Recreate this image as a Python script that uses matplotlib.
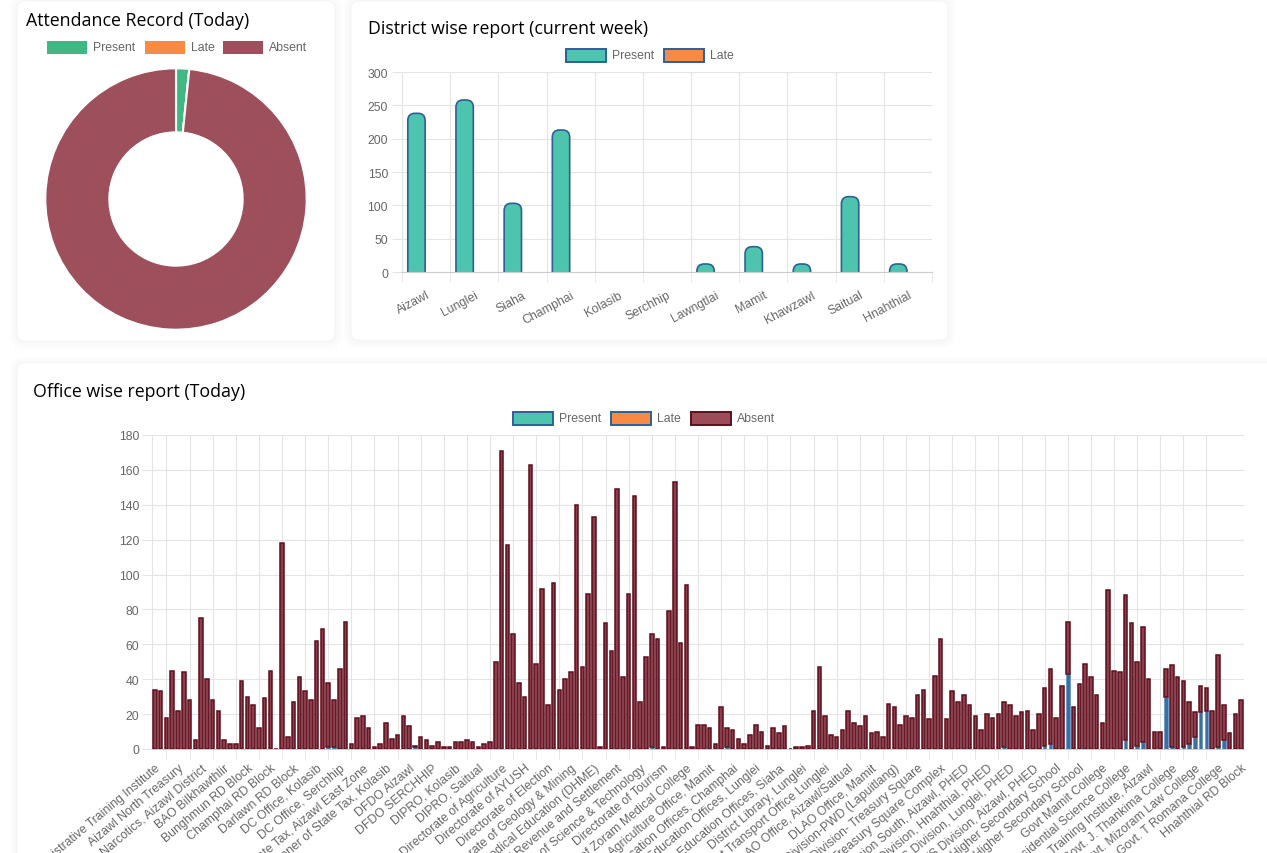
import numpy as np
import matplotlib.pyplot as plt
from matplotlib.patches import FancyBboxPatch, Rectangle

W, H = 1267, 854

# ---- data ----
att_labels = ['Present', 'Late', 'Absent']
att_values = [92, 0, 5560]
att_colors = ['#41b883', '#f78b45', '#9d4f5b']

district_names = ['Aizawl', 'Lunglei', 'Siaha', 'Champhai', 'Kolasib', 'Serchhip',
                  'Lawngtlai', 'Mamit', 'Khawzawl', 'Saitual', 'Hnahthial']
district_present = [238, 258, 103, 213, 0, 0, 12, 38, 12, 113, 12]
district_late = [0, 0, 0, 0, 0, 0, 0, 0, 0, 0, 0]

office_present = [0] * 30 + [1, 1] + [0] * 13 + [1] + [0] * 40 + [1] + [0] * 12 + [1] \
    + [0] * 47 + [1] + [0] * 6 + [2, 3, 0, 0, 43] + [0] * 9 + [5, 0, 2, 4, 0, 0, 0, 30, 1, 0, 1, 3] \
    + [7, 21, 22, 0, 1, 5, 0, 0, 0]
office_late = [0] * 189
office_absent = [
    34, 33, 18, 45, 22, 44, 28, 5, 75, 40,
    28, 22, 5, 3, 3, 39, 30, 25, 12, 29,
    45, 0, 118, 7, 27, 41, 33, 28, 62, 69,
    37, 27, 46, 73, 3, 18, 19, 12, 1, 3,
    15, 6, 8, 19, 13, 1, 7, 5, 2, 4,
    1, 1, 4, 4, 5, 4, 1, 3, 4, 50,
    171, 117, 66, 38, 30, 163, 49, 92, 25, 95,
    34, 40, 44, 140, 47, 89, 133, 1, 72, 56,
    149, 41, 89, 145, 27, 53, 65, 63, 1, 79,
    153, 61, 94, 1, 14, 14, 12, 3, 24, 11,
    11, 6, 3, 8, 14, 10, 2, 12, 9, 13,
    0, 1, 1, 2, 22, 47, 19, 8, 7, 11,
    22, 15, 13, 19, 9, 10, 7, 26, 24, 14,
    19, 18, 31, 34, 17, 42, 63, 17, 33, 27,
    31, 25, 19, 11, 20, 18, 20, 26, 25, 19,
    21, 22, 11, 20, 33, 43, 18, 36, 30, 24,
    37, 49, 41, 31, 15, 91, 45, 44, 83, 72,
    48, 66, 40, 10, 10, 16, 47, 41, 38, 24,
    14, 15, 13, 22, 53, 20, 9, 20, 28]

# every 4th office name is shown on the axis
office_tick_labels = [
    'Administrative Training Institute', 'Aizawl North Treasury',
    'Excise & Narcotics, Aizawl District', 'BAO Bilkhawthlir', 'Bunghmun RD Block',
    'Champhai RD Block', 'Darlawn RD Block', 'DC Office, Kolasib', 'DC Office, Serchhip',
    'Commissioner of State Tax, Aizawl East Zone', 'Commissioner of State Tax, Kolasib',
    'DFDO Aizawl', 'DFDO SERCHHIP', 'DIPRO, Kolasib', 'DIPRO, Saitual',
    'Directorate of Agriculture', 'Directorate of AYUSH', 'Directorate of Election',
    'Directorate of Geology & Mining', 'Directorate of Medical Education (DHME)',
    'Directorate of Revenue and Settlement', 'Directorate of Science & Technology',
    'Directorate of Tourism', 'Directorate of Zoram Medical College',
    'District Agriculture Office, Mamit', 'District Education Offices, Champhai',
    'District Education Offices, Lunglei', 'District Education Offices, Siaha',
    'District Library, Lunglei', 'District Transport Office Lunglei',
    'DLAO Office, Aizawl/Saitual', 'DLAO Office, Mamit', 'E&D Division-PWD (Lapuitlang)',
    'Electrical Division- Treasury Square', 'Electrical Treasury Square Complex',
    'Division South, Aizawl, PHED', 'Sub-Division, Hnahthial, PHED',
    'W/S Division, Lunglei, PHED', 'W/S Division, Aizawl, PHED',
    'Govt. Higher Secondary School', 'Govt. Higher Secondary School',
    'Govt Mamit College', 'Govt. Residential Science College',
    'Govt. Training Institute, Aizawl', 'Govt. J. Thankima College',
    'Govt. Mizoram Law College', 'Govt. T Romana College', 'Hnahthial RD Block']

GRID = '#e4e4e4'
TXT = '#666666'
TFONT = 'Liberation Sans'
HFONT = 'Open Sans'

fig = plt.figure(figsize=(W / 100, H / 100), dpi=100)
fig.patch.set_facecolor('white')

bg = fig.add_axes([0, 0, 1, 1])
bg.set_xlim(0, W)
bg.set_ylim(H, 0)
bg.axis('off')


def card(x0, y0, x1, y1):
    for k in range(8, 0, -1):
        bg.add_patch(FancyBboxPatch((x0 - k, y0 - k + 1), x1 - x0 + 2 * k, y1 - y0 + 2 * k,
                                    boxstyle='round,pad=0,rounding_size=%d' % (8 + k),
                                    fc='black', ec='none', alpha=0.005))
    bg.add_patch(FancyBboxPatch((x0, y0), x1 - x0, y1 - y0,
                                boxstyle='round,pad=0,rounding_size=8',
                                fc='white', ec='#f3f3f3', lw=0.5))


def legend(items, y):
    for x, label, fc, ec in items:
        bg.add_patch(Rectangle((x, y - 6.5), 40, 13, fc=fc, ec=ec, lw=1.4 if ec != 'none' else 0))
        bg.text(x + 46, y, label, fontsize=8.8, color=TXT, family=TFONT, va='center', ha='left')


def px_axes(x0, y0, x1, y1):
    return fig.add_axes([x0 / W, 1 - y1 / H, (x1 - x0) / W, (y1 - y0) / H])


card(17, 2, 335, 342)
card(351, 2, 948, 341)
card(17, 364, 1290, 900)

bg.text(26, 21, 'Attendance Record (Today)', fontsize=12.8, family=HFONT, weight='medium',
        color='black', va='center')
bg.text(368, 29, 'District wise report (current week)', fontsize=12.8, family=HFONT,
        weight='medium', color='black', va='center')
bg.text(33, 392, 'Office wise report (Today)', fontsize=12.8, family=HFONT,
        weight='medium', color='black', va='center')

legend([(47, 'Present', att_colors[0], 'none'), (145, 'Late', att_colors[1], 'none'),
        (223, 'Absent', att_colors[2], 'none')], 48)
legend([(566, 'Present', '#4dc4ad', '#2e5f96'), (664, 'Late', '#f78b45', '#2e5f96')], 56)
legend([(513, 'Present', '#4dc4ad', '#2e5f96'), (611, 'Late', '#f78b45', '#2e5f96'),
        (691, 'Absent', '#9b4c58', '#5c0f1d')], 419)

# ---- donut ----
ax1 = px_axes(44, 68, 308, 332)
ax1.pie(att_values, colors=att_colors, startangle=90, counterclock=False, radius=1,
        wedgeprops=dict(width=0.49, edgecolor='white', linewidth=1.5))
ax1.set_xlim(-1.01, 1.01)
ax1.set_ylim(-1.01, 1.01)
ax1.set_aspect('equal')
ax1.axis('off')

# ---- district bars ----
ax2 = px_axes(402, 73, 932, 273)
ax2.patch.set_alpha(0)
xd = np.arange(len(district_names))
bw = 0.36
rx = 0.15
ry = rx * (300 / 200) * 48.2
for x, v in zip(xd, district_present):
    if v > 0:
        ax2.add_patch(FancyBboxPatch((x - 0.2 - bw / 2, -ry), bw, v + ry,
                                     boxstyle='round,pad=0,rounding_size=%f' % rx,
                                     mutation_aspect=ry / rx, fc='#4dc4ad', ec='#2e5f96', lw=1.2))
ax2.bar(xd + 0.2, district_late, bw, color='#f78b45', lw=0)
ax2.set_xlim(-0.5, len(district_names) - 0.5)
ax2.set_ylim(0, 300)
ax2.set_yticks(range(0, 301, 50))
ax2.set_xticks(xd, district_names, rotation=28, ha='right', rotation_mode='anchor')
ax2.set_xticks(np.arange(-0.5, len(district_names)), minor=True)
ax2.grid(True, axis='y', color=GRID, lw=0.8)
ax2.grid(True, axis='x', which='minor', color=GRID, lw=0.8)
ax2.tick_params(axis='x', which='major', length=0, pad=12, labelsize=8.8, labelcolor=TXT)
ax2.tick_params(axis='x', which='minor', length=7, color=GRID)
ax2.tick_params(axis='y', length=7, color=GRID, pad=3, labelsize=8.8, labelcolor=TXT)
for lab in ax2.get_xticklabels() + ax2.get_yticklabels():
    lab.set_family(TFONT)
for s in ['top', 'right']:
    ax2.spines[s].set_visible(False)
ax2.spines['left'].set_color(GRID)
ax2.spines['bottom'].set_color('#cccccc')
ax2.set_axisbelow(True)

# ---- office bars ----
ax3 = px_axes(152, 436, 1244, 750)
ax3.patch.set_alpha(0)
xo = np.arange(len(office_absent))
pres = np.array(office_present)
late = np.array(office_late)
ax3.bar(xo, pres, 0.6, color='#3d6f9d', edgecolor='#6f9dca',
        linewidth=[0.7 if p > 0 else 0 for p in pres], zorder=3)
ax3.bar(xo, late, 0.6, bottom=pres, color='#f78b45', linewidth=0, zorder=3)
ax3.bar(xo, office_absent, 0.6, bottom=pres + late, color='#8e3d4a', edgecolor='#5c0f1d',
        linewidth=1.1, zorder=3)
ax3.set_xlim(-0.5, len(office_absent) - 0.5)
ax3.set_ylim(0, 180)
ax3.set_yticks(range(0, 181, 20))
ax3.set_xticks(xo[::4], office_tick_labels, rotation=40, ha='right', rotation_mode='anchor')
ax3.set_xticks(xo[2::4][:-1], minor=True)
ax3.grid(True, axis='y', color=GRID, lw=0.8)
ax3.grid(True, axis='x', which='minor', color=GRID, lw=0.8)
ax3.tick_params(axis='x', which='major', length=0, pad=9, labelsize=8.8, labelcolor=TXT)
ax3.tick_params(axis='x', which='minor', length=7, color=GRID)
ax3.tick_params(axis='y', length=7, color=GRID, pad=2, labelsize=8.8, labelcolor=TXT)
for lab in ax3.get_xticklabels() + ax3.get_yticklabels():
    lab.set_family(TFONT)
for s in ['top', 'right']:
    ax3.spines[s].set_visible(False)
ax3.spines['left'].set_color(GRID)
ax3.spines['bottom'].set_color('#cccccc')
ax3.set_axisbelow(True)

fig.savefig('out.png', dpi=100)
